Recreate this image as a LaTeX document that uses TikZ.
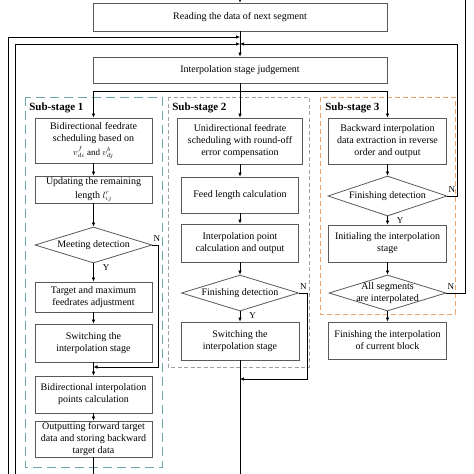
\documentclass[tikz,border=0pt]{standalone}
\usepackage{fontspec}
\setmainfont{Liberation Serif}
\usetikzlibrary{shapes.geometric,arrows.meta,positioning,calc}
\definecolor{stageone}{RGB}{110,165,172}
\definecolor{stagetwo}{RGB}{160,160,160}
\definecolor{stagethree}{RGB}{232,165,110}

\begin{document}
\begin{tikzpicture}[
    x=1pt, y=-1pt,
    line width=0.6pt,
    font=\fontsize{10}{12}\selectfont,
    %
    block/.style={draw=black!65, line width=0.8pt, rectangle, align=center,
                  inner sep=1pt, minimum width=117pt},
    decision/.style={draw=black!65, line width=0.8pt, diamond, aspect=3.2,
                  inner sep=0pt, minimum width=117pt, minimum height=36pt, align=center},
    title/.style={font=\fontsize{11}{13}\selectfont\bfseries, anchor=west, inner sep=0pt},
    lbl/.style={font=\fontsize{9}{10}\selectfont, inner sep=1pt},
    %
    stageA/.style={draw=stageone, line width=0.8pt, dash pattern=on 9pt off 5pt},
    stageB/.style={draw=stagetwo, line width=0.7pt, dash pattern=on 4pt off 2.5pt},
    stageC/.style={draw=stagethree, line width=0.8pt, dash pattern=on 5pt off 3pt},
    %
    pre/.style={-{Latex[length=4pt,width=3.5pt]}}
    ]

    \useasboundingbox (0,0) rectangle (474,474);
    \clip (0,0) rectangle (474,474);

    \node[block, minimum width=294pt, minimum height=28pt] (read)  at (240,17) {Reading the data of next segment};
    \node[block, minimum width=294pt, minimum height=26pt] (judge) at (240,70) {Interpolation stage judgement};
    %
    \draw[stageA] (25,97)  rectangle (162,467);
    \draw[stageB] (168,97) rectangle (309,367);
    \draw[stageC] (320,97) rectangle (455,314);
    \node[title] (t1) at (29,108)  {Sub-stage 1};
    \node[title] (t2) at (172,108) {Sub-stage 2};
    \node[title] (t3) at (325,108) {Sub-stage 3};
    %
    % sub-stage 1
    \node[block, minimum height=45pt] (bid)    at (93.5,140.5) {Bidirectional feedrate\\scheduling based on\\[1.5pt]{\small$v_{di}^{f}$ and $v_{dj}^{b}$}};
    \node[block, minimum height=27pt] (upd)    at (93.5,189.5) {Updating the remaining\\[1.5pt]length {\small$l_{ij}^{r}$}};
    \node[decision]                   (meet)   at (93.5,245)   {Meeting detection};
    \node[block, minimum height=30pt] (target) at (93.5,297)   {Target and maximum\\feedrates adjustment};
    \node[block, minimum height=38pt] (sw1)    at (93.5,343)   {Switching the\\interpolation stage};
    \node[block, minimum height=37pt] (bip)    at (93.5,394.5) {Bidirectional interpolation\\points calculation};
    \node[block, minimum height=36pt] (out1)   at (93.5,439)   {Outputting forward target\\data and storing backward\\target data};
    %
    % sub-stage 2
    \node[block, minimum width=125pt, minimum height=46pt] (uni)  at (240,141) {Unidirectional feedrate\\scheduling with round-off\\error compensation};
    \node[block, minimum height=36pt]                      (feed) at (240,195) {Feed length calculation};
    \node[block, minimum height=38pt]                      (ipt)  at (240,243) {Interpolation point\\calculation and output};
    \node[decision]                                        (fin2) at (240,293) {Finishing detection};
    \node[block, minimum width=118pt, minimum height=38pt] (sw2)  at (240,341) {Switching the\\interpolation stage};
    %
    % sub-stage 3
    \node[block, minimum width=118pt, minimum height=46pt]  (back)   at (387.5,141)   {Backward interpolation\\data extraction in reverse\\order and output};
    \node[decision, minimum width=119pt, minimum height=40pt] (fin3) at (387.5,196)   {Finishing detection};
    \node[block, minimum width=118pt, minimum height=37pt]  (init)   at (387.5,243.5) {Initialing the interpolation\\stage};
    \node[decision, label={[align=center, inner sep=0pt]center:{All segments\\are interpolated}}] (allseg) at (387.5,293) {};
    \node[block, minimum width=118pt, minimum height=37pt]  (finish) at (387.5,340.5) {Finishing the interpolation\\of current block};
    %
    % branch labels
    \node[lbl, anchor=south west, yshift=2pt] (meetN) at (meet.east)   {N};
    \node[lbl, anchor=north west, xshift=8pt] (meetY) at (meet.south)  {Y};
    \node[lbl, anchor=south west, yshift=2pt] (fin2N) at (fin2.east)   {N};
    \node[lbl, anchor=north west, xshift=8pt] (fin2Y) at (fin2.south)  {Y};
    \node[lbl, anchor=south west, yshift=2pt] (fin3N) at (fin3.east)   {N};
    \node[lbl, anchor=north west, xshift=8pt] (fin3Y) at (fin3.south)  {Y};
    \node[lbl, anchor=south west, yshift=2pt] (allN)  at (allseg.east) {N};
    %
    \coordinate (split) at (240,91);
    \coordinate (j1)    at (240,37);
    \coordinate (j2)    at (240,44);
    \coordinate (retR)  at (457,44);
    \coordinate (topR)  at (465,-10);
    \coordinate (loopA) at (8,492);
    \coordinate (loopB) at (15,485);
    \coordinate (join1) at (93.5,367);
    \coordinate (join2) at (240,379);
    %
    \draw[pre] (read) -- (judge);
    \draw[pre] (judge) -- (uni);
    \draw[pre] (split) -| (bid);
    \draw[pre] (split) -| (back);
    %
    \draw[pre] (bid) -- (upd);
    \draw[pre] (upd) -- (meet);
    \draw[pre] (meet) -- (target);
    \draw[pre] (target) -- (sw1);
    \draw[pre] (sw1) -- (bip);
    \draw[pre] (bip) -- (out1);
    \draw[pre] (meet.east) -- ++(6,0) |- (join1);
    %
    \draw[pre] (uni) -- (feed);
    \draw[pre] (feed) -- (ipt);
    \draw[pre] (ipt) -- (fin2);
    \draw[pre] (fin2) -- (sw2);
    \draw[pre] (fin2.east) -- ++(8,0) |- (join2);
    %
    \draw[pre] (back) -- (fin3);
    \draw[pre] (fin3) -- (init);
    \draw[pre] (init) -- (allseg);
    \draw[pre] (allseg) -- (finish);
    \draw[pre] (fin3.east) -| (retR) -- (j2);
    \draw[pre] (allseg.east) -| (topR) -| (read.north);
    %
    \draw[pre] (out1) |- (loopB) |- (j2);
    \draw[pre] (sw2) |- (loopA) |- (j1);
    %
\end{tikzpicture}
\end{document}
